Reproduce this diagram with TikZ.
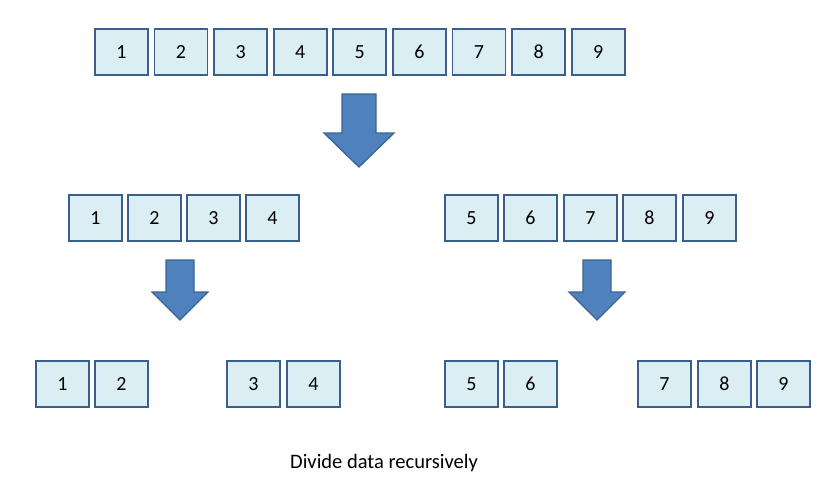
\documentclass[tikz,border=0pt]{standalone}
\usepackage{fontspec}
\setmainfont{Carlito}
\begin{document}
\begin{tikzpicture}[x=1pt,y=-1pt,
  box/.style={draw=boxline,fill=boxfill,line width=1.8pt,minimum width=53pt,minimum height=46pt,inner sep=0pt,font=\fontsize{20}{22}\selectfont,anchor=north west},
  arr/.style={draw=arrline,fill=arrfill,line width=1.3pt}]
\definecolor{boxline}{HTML}{3A5F8C}
\definecolor{boxfill}{HTML}{DBEEF4}
\definecolor{arrline}{HTML}{3C6494}
\definecolor{arrfill}{HTML}{4F81BD}
\useasboundingbox (0,0) rectangle (831,491);
% top row
\foreach \i in {1,...,9}{
  \node[box] (t\i) at ({94+59.6*(\i-1)},28) {\i};
}
% middle rows
\foreach \i/\x in {1/68,2/127,3/186,4/245}{ \node[box] (ml\i) at (\x,194) {\i}; }
\foreach \i/\x in {5/444,6/503,7/563,8/622,9/682}{ \node[box] (mr\i) at (\x,194) {\i}; }
% bottom rows
\foreach \i/\x in {1/35,2/94,3/226,4/286,5/444,6/503,7/637,8/697,9/756}{ \node[box] (b\i) at (\x,360) {\i}; }
% arrows
\path[arr] (342,94) -- (376,94) -- (376,133) -- (394,133) -- (359,167) -- (324,133) -- (342,133) -- cycle;
\path[arr] (166,260) -- (194,260) -- (194,292) -- (208,292) -- (180,320) -- (152,292) -- (166,292) -- cycle;
\path[arr] (583,260) -- (611,260) -- (611,292) -- (625,292) -- (597,320) -- (569,292) -- (583,292) -- cycle;
\node[font=\fontsize{20.5}{22}\selectfont] (cap) at (384,463) {Divide data recursively};
\end{tikzpicture}
\end{document}
